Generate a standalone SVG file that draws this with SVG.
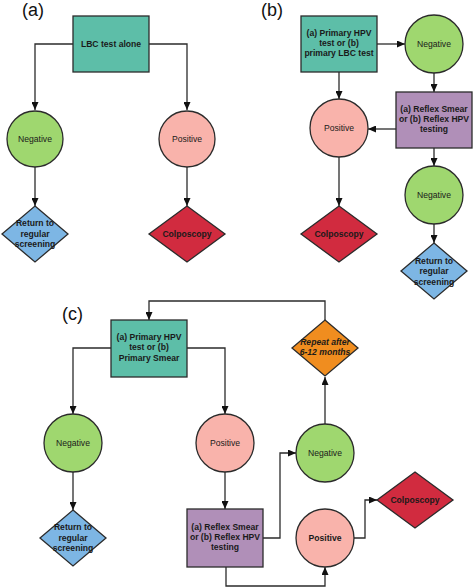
<svg xmlns="http://www.w3.org/2000/svg" width="474" height="588" viewBox="0 0 474 588">
<defs>
<marker id="ah" markerUnits="userSpaceOnUse" markerWidth="8" markerHeight="7" refX="8" refY="3.5" orient="auto">
<path d="M0,0 L8,3.5 L0,7 z" fill="#111"/>
</marker>
<style>
.lbl{font-family:"Liberation Sans",Arial,sans-serif;font-size:18px;fill:#111}
.t{font-family:"Liberation Sans",Arial,sans-serif;font-size:8.6px;fill:#1a1a1a;text-anchor:middle}
.b{font-weight:bold}
.i{font-style:italic}
.sh{stroke:#2b2b2b;stroke-width:1.3}
.teal{fill:#5dbea8}
.green{fill:#9fd76f}
.pink{fill:#f9b3ab}
.red{fill:#d12b3f}
.blue{fill:#7db6e4}
.purple{fill:#b08fb8}
.orange{fill:#f08d1f}
.c path{fill:none;stroke:#2b2b2b;stroke-width:1.3;marker-end:url(#ah)}
.n path{fill:none;stroke:#2b2b2b;stroke-width:1.3}
</style>
</defs>
<rect width="474" height="588" fill="#fff"/>

<text class="lbl" x="22" y="16">(a)</text>
<text class="lbl" x="261" y="16">(b)</text>
<text class="lbl" x="62" y="320">(c)</text>

<g id="connectors">
<g class="c">
<!-- a -->
<path d="M73,44 H35 V110"/>
<path d="M35,167 V206"/>
<path d="M149,44 H187 V110"/>
<path d="M187,167 V206"/>
<!-- b -->
<path d="M377,44 H405"/>
<path d="M434,73 V92"/>
<path d="M396,129 H368"/>
<path d="M339,72 V99"/>
<path d="M339,157 V206"/>
<path d="M434,148 V166"/>
<path d="M434,224 V243"/>
<!-- c -->
<path d="M325,320 V301 H149 V320"/>
<path d="M111,348 H73 V414"/>
<path d="M73,472 V510"/>
<path d="M187,348 H225 V414"/>
<path d="M225,472 V509"/>
<path d="M263,538 H280 V453 H296"/>
<path d="M325,424 V377"/>
<path d="M226,567 V586 H325 V567"/>
<path d="M354,538 H365 V500 H377"/>
</g>
</g>

<!-- Panel a -->
<g id="a_box">
<rect class="teal sh" x="73" y="16" width="76" height="56"/>
<text class="t b" x="111" y="47">LBC test alone</text>
</g>
<g id="a_neg">
<circle class="green sh" cx="35" cy="139" r="28"/>
<text class="t" x="35" y="142">Negative</text>
</g>
<g id="a_pos">
<circle class="pink sh" cx="187" cy="139" r="28"/>
<text class="t" x="187" y="142">Positive</text>
</g>
<g id="a_return">
<polygon class="blue sh" points="35,206 68,234 35,262 2,234"/>
<text class="t b" x="35" y="226">Return to</text>
<text class="t b" x="35" y="237">regular</text>
<text class="t b" x="35" y="247">screening</text>
</g>
<g id="a_colpo">
<polygon class="red sh" points="187,206 225,234 187,262 149,234"/>
<text class="t b" x="187" y="237">Colposcopy</text>
</g>

<!-- Panel b -->
<g id="b_box">
<rect class="teal sh" x="301" y="16" width="76" height="56"/>
<text class="t b" x="339" y="36">(a) Primary HPV</text>
<text class="t b" x="339" y="46">test or (b)</text>
<text class="t b" x="339" y="56">primary LBC test</text>
</g>
<g id="b_neg1">
<circle class="green sh" cx="434" cy="44" r="29"/>
<text class="t" x="434" y="47">Negative</text>
</g>
<g id="b_reflex">
<rect class="purple sh" x="396" y="92" width="76" height="56"/>
<text class="t b" x="434" y="112">(a) Reflex Smear</text>
<text class="t b" x="434" y="122">or (b) Reflex HPV</text>
<text class="t b" x="434" y="132">testing</text>
</g>
<g id="b_pos">
<circle class="pink sh" cx="339" cy="128" r="29"/>
<text class="t" x="339" y="131">Positive</text>
</g>
<g id="b_colpo">
<polygon class="red sh" points="339,206 377,234 339,262 301,234"/>
<text class="t b" x="339" y="237">Colposcopy</text>
</g>
<g id="b_neg2">
<circle class="green sh" cx="434" cy="195" r="29"/>
<text class="t" x="434" y="198">Negative</text>
</g>
<g id="b_return">
<polygon class="blue sh" points="434,243 467,271 434,299 401,271"/>
<text class="t b" x="434" y="264">Return to</text>
<text class="t b" x="434" y="274">regular</text>
<text class="t b" x="434" y="285">screening</text>
</g>

<!-- Panel c -->
<g id="c_box">
<rect class="teal sh" x="111" y="320" width="76" height="57"/>
<text class="t b" x="149" y="340">(a) Primary HPV</text>
<text class="t b" x="149" y="350">test or (b)</text>
<text class="t b" x="149" y="361">Primary Smear</text>
</g>
<g id="c_neg1">
<circle class="green sh" cx="73" cy="443" r="29"/>
<text class="t" x="73" y="446">Negative</text>
</g>
<g id="c_return">
<polygon class="blue sh" points="73,510 106,538 73,566 40,538"/>
<text class="t b" x="73" y="530">Return to</text>
<text class="t b" x="73" y="541">regular</text>
<text class="t b" x="73" y="551">screening</text>
</g>
<g id="c_pos1">
<circle class="pink sh" cx="225" cy="443" r="29"/>
<text class="t" x="225" y="446">Positive</text>
</g>
<g id="c_reflex">
<rect class="purple sh" x="187" y="509" width="76" height="58"/>
<text class="t b" x="225" y="530">(a) Reflex Smear</text>
<text class="t b" x="225" y="540">or (b) Reflex HPV</text>
<text class="t b" x="225" y="550">testing</text>
</g>
<g id="c_neg2">
<circle class="green sh" cx="325" cy="453" r="29"/>
<text class="t" x="325" y="456">Negative</text>
</g>
<g id="c_repeat">
<polygon class="orange sh" points="325,320 358,348 325,376 292,348"/>
<text class="t b i" x="325" y="345">Repeat after</text>
<text class="t b i" x="325" y="355">6-12 months</text>
</g>
<g id="c_pos2">
<circle class="pink sh" cx="325" cy="538" r="29"/>
<text class="t b" x="325" y="541">Positive</text>
</g>
<g id="c_colpo">
<polygon class="red sh" points="415,472 453,500 415,528 377,500"/>
<text class="t b" x="415" y="503">Colposcopy</text>
</g>
</svg>
